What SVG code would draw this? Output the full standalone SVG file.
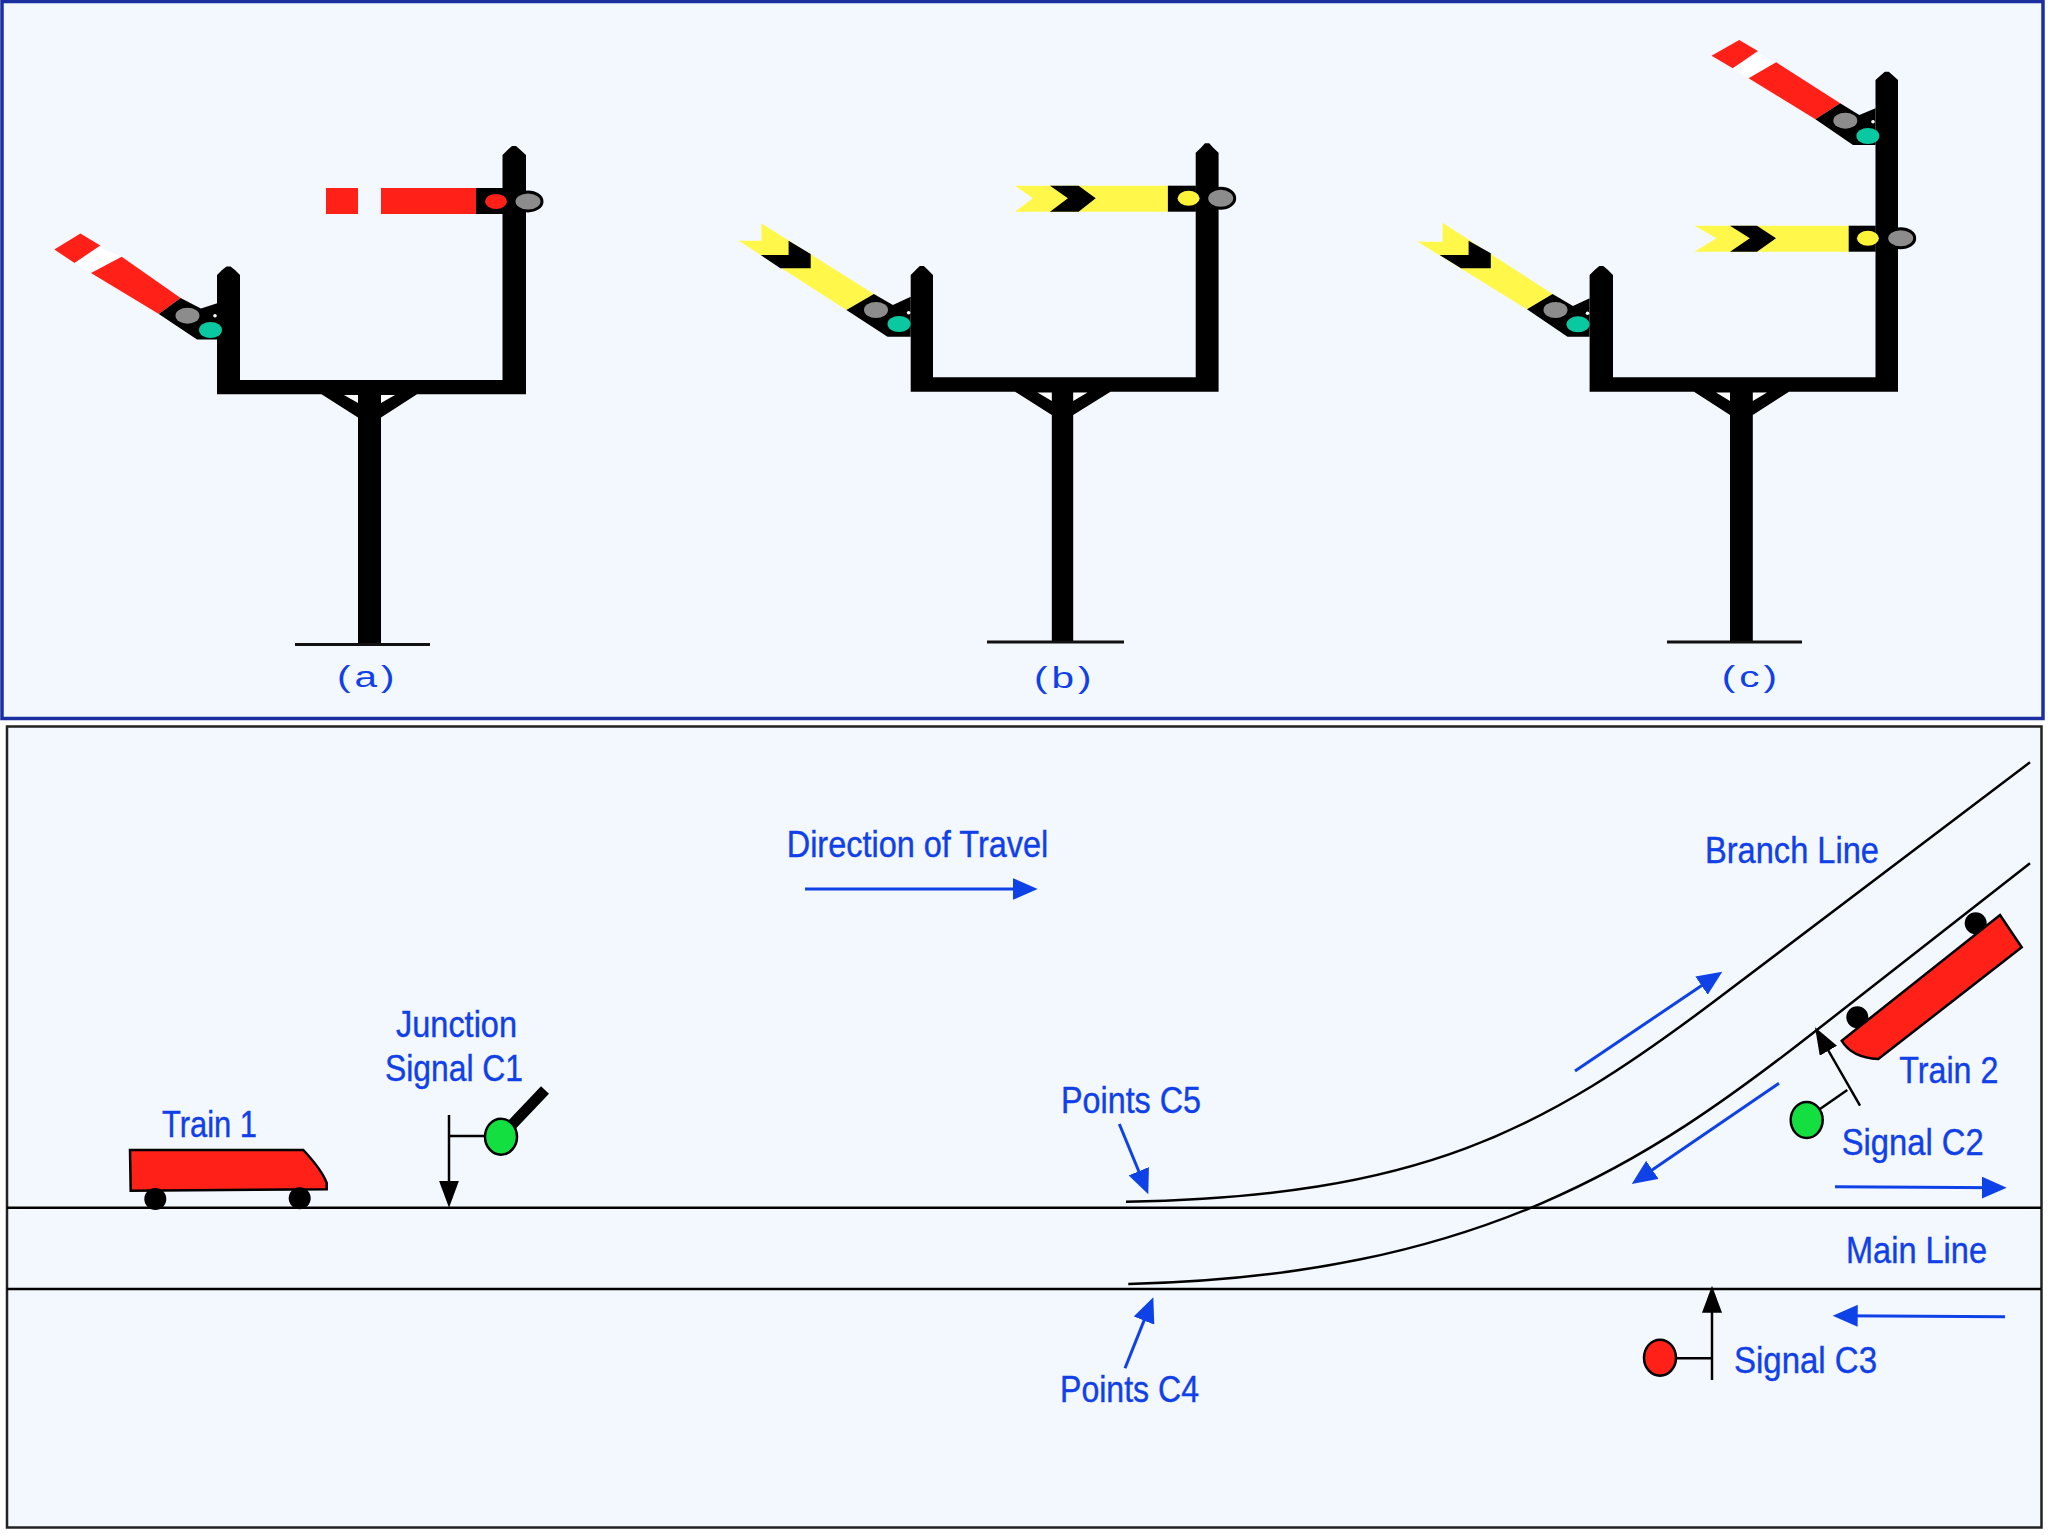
<svg xmlns="http://www.w3.org/2000/svg" width="2048" height="1536" viewBox="0 0 2048 1536">
<style>
.k{fill:#000}.r{fill:#ff2018}.y{fill:#fff84a}.w{fill:#fff}.bg{fill:#f3f8ff}
.gy{fill:#8c8c8c}.gn{fill:#0ac8a0}.lr{fill:#ff2018}.ly{fill:#fff33a}
.out{fill:#8c8c8c;stroke:#000;stroke-width:3}
.foot{stroke:#111;stroke-width:3;fill:none}
.rail{stroke:#000;stroke-width:2.5;fill:none}
.rim{stroke:#000;stroke-width:2.5}
.sig{stroke:#000;stroke-width:2.5;fill:none}
.blue{stroke:#0f42e6;stroke-width:3;fill:none;marker-end:url(#hb)}
.blk{stroke:#000;stroke-width:2.5;fill:none;marker-end:url(#hk)}
text{font-family:"Liberation Sans",Arial,sans-serif;font-size:37px;fill:#1040e8;stroke:#1040e8;stroke-width:.4}
.cap{font-size:30px;letter-spacing:3px;stroke-width:0}
</style>
<defs>
<marker id="hb" markerUnits="userSpaceOnUse" markerWidth="26" markerHeight="22" refX="19" refY="11" orient="auto"><path d="M0,0L25,11L0,22z" fill="#0f42e6"/></marker>
<marker id="hk" markerUnits="userSpaceOnUse" markerWidth="28" markerHeight="20" refX="21" refY="10" orient="auto"><path d="M0,0L27,10L0,20z" fill="#000"/></marker>
</defs>
<rect width="2048" height="1536" fill="#fff"/>

<g id="panel-top"><rect x="2" y="1.5" width="2041" height="717" class="bg" stroke="#1b2f9e" stroke-width="3.5"/></g>
<g id="panel-bottom"><rect x="7" y="726.5" width="2034.5" height="801" fill="#f3f7fe" stroke="#222" stroke-width="2.5"/></g>

<g id="signal-a">
<path class="k" d="M217,394.3V275L222,270L226.5,266.4H230.5L235,270L240,275V380H502.5V155L507.5,150L512,146H516L520.5,150L526,155V394.3H417L381,417.5V644H358V417.5L321.5,394.3Z"/>
<path class="w" d="M344,395H358V403ZM395,395H381V403Z"/>
<path class="foot" d="M295,644.6H430"/>
<rect class="k" x="476" y="188" width="27" height="26"/>
<rect class="r" x="326" y="188" width="32" height="26"/>
<rect class="r" x="381" y="188" width="95" height="26"/>
<ellipse class="lr" cx="496" cy="201.4" rx="11" ry="7.5"/>
<ellipse class="out" cx="528" cy="201.4" rx="14" ry="9.5"/>
<path class="r" d="M80.4,233.6L100.3,245.4L74.6,262.9L54.3,249.6Z"/>
<path class="w" d="M100.3,247.9L121.7,256.8L91,272.9L74.6,262.9Z"/>
<path class="r" d="M121.7,256.8L180.6,297.9L158.8,313.9L91,272.9Z"/>
<path class="k" d="M180.6,297.9L200.9,308.6L218,303V339.6H197L158.8,313.9Z"/>
<ellipse class="gy" cx="187.5" cy="315.7" rx="12" ry="8"/>
<ellipse class="gn" cx="210.5" cy="330" rx="11.5" ry="8"/>
<circle class="w" cx="215" cy="315.7" r="1.8"/>
<text class="cap" transform="translate(337,687) scale(1.35,1)">(a)</text>
</g>

<g id="signal-b">
<path class="k" d="M910.7,391.7V275L915.7,270L919.8,266H923.8L928,270L933,275V377.3H1195.7V152.7L1200.7,148L1205,143.3H1209.2L1213.5,148L1218.6,152.7V391.7H1110.5L1073.2,415V642H1051.8V415L1015,391.7Z"/>
<path class="w" d="M1037.5,392.5H1051.8V401ZM1087.5,392.5H1073.2V401Z"/>
<path class="foot" d="M987,642H1124"/>
<path class="y" d="M1015,185.7H1168V211.7H1015L1032.9,198.3Z"/>
<path class="k" d="M1050,185.7H1078.6L1095.7,198.3L1078.6,211.7H1050L1067.9,198.3Z"/>
<rect class="k" x="1167.9" y="185.7" width="28" height="26"/>
<ellipse class="ly" cx="1188.6" cy="198.3" rx="11" ry="7.5"/>
<ellipse class="out" cx="1220.7" cy="198.3" rx="14" ry="10"/>
<path class="y" d="M761.4,223.3L873.9,294L846.4,310L738.6,240.7H761.4Z"/>
<path class="k" d="M788.6,240.7L810.7,254V268.3H780.4L760.7,255H788.6Z"/>
<path class="k" d="M873.9,294L892.9,305L910.7,296.7V336.7H887.5L846.4,310Z"/>
<ellipse class="gy" cx="876" cy="310" rx="12" ry="8"/>
<ellipse class="gn" cx="899" cy="324" rx="11.5" ry="8"/>
<circle class="w" cx="908.6" cy="312.7" r="1.8"/>
<text class="cap" transform="translate(1034,688) scale(1.35,1)">(b)</text>
</g>

<g id="signal-c">
<path class="k" d="M1589.6,391.7V275L1594.6,270L1599.3,266H1603.3L1608,270L1613,275V377.3H1875.5V80L1880.5,75.5L1884.8,71.7H1888.8L1893,75.5L1898,80V391.7H1789L1752.8,415V642H1730V415L1694,391.7Z"/>
<path class="w" d="M1716,392.5H1730V401ZM1767,392.5H1752.8V401Z"/>
<path class="foot" d="M1667,642H1802"/>
<path class="y" d="M1694.4,225.7H1849V251.7H1694.4L1716.6,238.3Z"/>
<path class="k" d="M1730,225.7H1757L1776,238.3L1757,251.7H1730L1749.8,238.3Z"/>
<rect class="k" x="1848.7" y="225.7" width="27" height="26"/>
<ellipse class="ly" cx="1867.9" cy="238.3" rx="11" ry="7.5"/>
<ellipse class="out" cx="1900.7" cy="238.3" rx="14" ry="9.5"/>
<path class="r" d="M1739.2,40L1757.9,51L1732.8,68.3L1711.5,55.7Z"/>
<path class="w" d="M1757.9,53.3L1776.2,62.3L1748.6,78.3L1732.8,68.3Z"/>
<path class="r" d="M1776.2,62.3L1840.2,103.3L1815.4,119.3L1748.6,78.3Z"/>
<path class="k" d="M1840.2,103.3L1859.3,115L1875.5,108.3V145H1853L1815.4,119.3Z"/>
<ellipse class="gy" cx="1845.3" cy="120.7" rx="12" ry="8"/>
<ellipse class="gn" cx="1867.9" cy="136" rx="11.5" ry="8"/>
<circle class="w" cx="1873" cy="121.7" r="1.8"/>
<path class="y" d="M1442.6,222.7L1552.6,294L1527,309.3L1417.5,241.7H1442.6Z"/>
<path class="k" d="M1468.6,240.7L1490.8,253.3V268.3H1461L1439.6,255H1468.6Z"/>
<path class="k" d="M1552.6,294L1573,306L1589.6,298.3V336.7H1567.5L1527,309.3Z"/>
<ellipse class="gy" cx="1555.5" cy="310" rx="12" ry="8"/>
<ellipse class="gn" cx="1578" cy="324.3" rx="11.5" ry="8"/>
<circle class="w" cx="1587.5" cy="313.3" r="1.8"/>
<text class="cap" transform="translate(1721.7,687) scale(1.35,1)">(c)</text>
</g>

<g id="connectors">
<path class="rail" d="M7,1207.7H2041"/>
<path class="rail" d="M7,1289H2041"/>
<path class="rail" d="M1126,1201.7C1420,1196 1540,1133.4 1720,997L2030,762.3"/>
<path class="rail" d="M1128.3,1284C1480,1276 1650,1160.5 1813,1033L2030,863.3"/>
<path class="blk" d="M449,1115V1201.7"/>
<path class="sig" d="M449,1136H485"/>
<path class="blk" d="M1860,1105.7L1818,1032.5"/>
<path class="sig" d="M1847.3,1090L1820,1109"/>
<path class="blk" d="M1712,1380V1291.7"/>
<path class="sig" d="M1712,1358.3H1676"/>
<path class="blue" d="M805,889H1031.7"/>
<path class="blue" d="M1575,1071L1717.3,975"/>
<path class="blue" d="M1779,1083.3L1636.7,1180.6"/>
<path class="blue" d="M1835,1186.7L2000.7,1187.7"/>
<path class="blue" d="M2005,1316.7L1838.7,1315.7"/>
<path class="blue" d="M1119.3,1124L1146,1188.8"/>
<path class="blue" d="M1125,1368.3L1151.1,1302.9"/>
</g>

<g id="train-1">
<path class="r rim" d="M130,1150H303.3Q322,1170 326.7,1183V1189.3L130.7,1190.7Z"/>
<circle class="k" cx="155.3" cy="1199" r="11"/>
<circle class="k" cx="299.7" cy="1198.3" r="11"/>
<text x="162" y="1136.7" textLength="95" lengthAdjust="spacingAndGlyphs">Train 1</text>
</g>
<g id="train-2">
<circle class="k" cx="1975.7" cy="923.3" r="11"/>
<circle class="k" cx="1857.3" cy="1017.3" r="11"/>
<path class="r rim" d="M2000,915L2021.7,947.3L1878.3,1059Q1852,1058 1841.7,1040.7Z"/>
<text x="1899.3" y="1083.3" textLength="99" lengthAdjust="spacingAndGlyphs">Train 2</text>
</g>
<g id="signal-c1">
<path d="M511.7,1125L545,1090" stroke="#000" stroke-width="11" fill="none"/>
<ellipse cx="501" cy="1136.7" rx="16" ry="18" fill="#13e040" class="rim"/>
<text x="396" y="1036.7" textLength="121" lengthAdjust="spacingAndGlyphs">Junction</text>
<text x="385" y="1080.7" textLength="138" lengthAdjust="spacingAndGlyphs">Signal C1</text>
</g>
<g id="signal-c2">
<ellipse cx="1806.7" cy="1120" rx="16" ry="18" fill="#13e040" class="rim"/>
<text x="1841.7" y="1155" textLength="142" lengthAdjust="spacingAndGlyphs">Signal C2</text>
</g>
<g id="signal-c3">
<ellipse cx="1660" cy="1357.7" rx="16" ry="18" fill="#ff2018" class="rim"/>
<text x="1734" y="1373.3" textLength="143" lengthAdjust="spacingAndGlyphs">Signal C3</text>
</g>
<g id="labels">
<text x="786.7" y="857.3" textLength="261.6" lengthAdjust="spacingAndGlyphs">Direction of Travel</text>
<text x="1705" y="863.3" textLength="174" lengthAdjust="spacingAndGlyphs">Branch Line</text>
<text x="1846" y="1263.3" textLength="141" lengthAdjust="spacingAndGlyphs">Main Line</text>
<text x="1061" y="1113.3" textLength="140" lengthAdjust="spacingAndGlyphs">Points C5</text>
<text x="1060" y="1401.7" textLength="139" lengthAdjust="spacingAndGlyphs">Points C4</text>
</g>
</svg>
